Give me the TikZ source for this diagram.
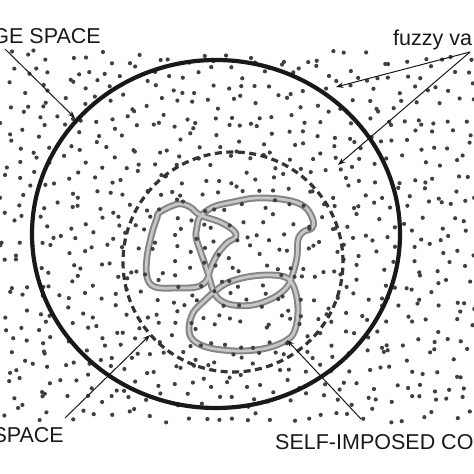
\documentclass[tikz,border=0pt]{standalone}
\usepackage{fontspec}
\setmainfont{Liberation Sans}
\usetikzlibrary{arrows.meta}
\definecolor{dotc}{HTML}{404040}
\tikzset{
  lbl/.style={font=\fontsize{21.5}{24}\selectfont, inner sep=0pt, text=black!90},
  ptr/.style={line width=1pt, black!90, -{Stealth[length=7.5pt,width=5.5pt]}},
  blobout/.style={draw=black!48, line width=6.8pt, line join=round},
  blobin/.style={draw=black!22, line width=2.8pt, line join=round},
  bigring/.style={draw=black!90, line width=4.2pt},
  dashring/.style={draw=black!80, line width=3.2pt, dash pattern=on 7pt off 4.5pt},
  dotstyle/.style={fill=dotc}
}
\begin{document}
\begin{tikzpicture}[x=1pt,y=-1pt]
\useasboundingbox (0,0) rectangle (474,474);
\clip (0,0) rectangle (474,474);
% blobs
\def\blobA{(160,212) (178,204) (190,207) (200,215) (220,222) (233,230) (236,237) (227,243) (217,255) (210,270) (207,280) (197,287) (177,288) (155,287) (147,277) (147,257) (152,233) (157,218)}
\def\blobB{(197,227) (200,217) (213,207) (233,202) (257,198) (287,200) (305,207) (313,220) (312,228) (303,232) (298,240) (297,257) (293,273) (287,287) (273,298) (253,305) (233,305) (220,300) (213,290) (207,270) (200,250) (196,237)}
\def\blobC{(213,293) (227,283) (247,277) (270,275) (287,278) (295,290) (298,310) (295,330) (287,340) (267,348) (240,351) (210,348) (193,340) (189,328) (193,313) (203,302)}
\foreach \b in {\blobA,\blobB,\blobC}{
  \draw[blobout] plot[smooth cycle, tension=0.6] coordinates \b;
}
\foreach \b in {\blobA,\blobB,\blobC}{
  \draw[blobin] plot[smooth cycle, tension=0.6] coordinates \b;
}
% dots (jittered grid)
\pgfmathsetseed{4711}
\foreach \i in {0,...,31}{
  \foreach \j in {0,...,24}{
    \pgfmathsetmacro\dx{\i*14.85+rnd*14.85}
    \pgfmathsetmacro\dy{50+\j*14.9+rnd*14.9}
    \fill[dotstyle] (\dx,\dy) circle[radius=2.1pt];
  }
}
% rings
\draw[bigring] (216,234) ellipse [x radius=184, y radius=174];
\draw[dashring] (233,262) circle[radius=110pt];
% labels
\node[lbl, anchor=base east] (imgspace) at (101,43) {GE SPACE};
\node[lbl, anchor=base west] (fuzzy) at (393,45) {fuzzy va};
\node[lbl, anchor=base east] (space) at (64,442) {SPACE};
\node[lbl, anchor=base west] (selfimp) at (275,449) {SELF-IMPOSED CO};
% arrow anchors
\coordinate (a1s) at (5,49);   \coordinate (a1e) at (75,118);
\coordinate (a2s) at (470,52); \coordinate (a2e) at (336,87);
\coordinate (a3e) at (338,165);
\coordinate (a4s) at (65,418); \coordinate (a4e) at (150,335);
\coordinate (a5s) at (361,419);\coordinate (a5e) at (287,340);
\draw[ptr] (a1s) -- (a1e);
\draw[ptr] (a2s) -- (a2e);
\draw[ptr] (a2s) -- (a3e);
\draw[ptr] (a4s) -- (a4e);
\draw[ptr] (a5s) -- (a5e);
\end{tikzpicture}
\end{document}
